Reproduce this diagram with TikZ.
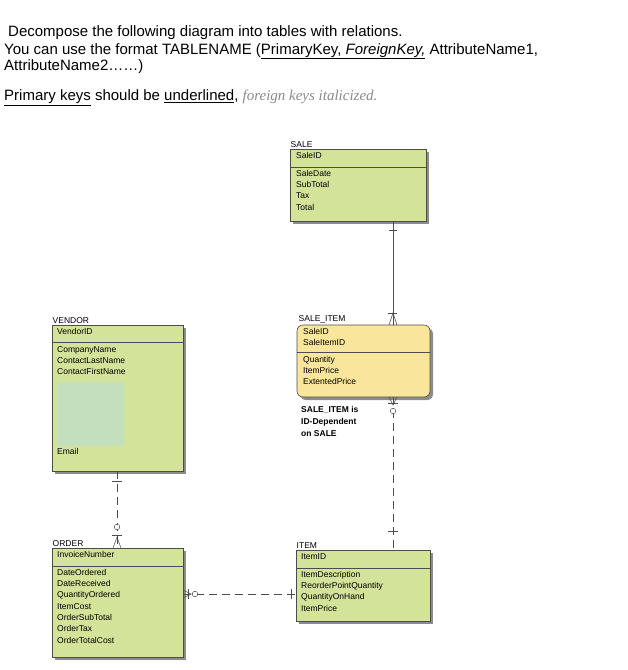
\documentclass[tikz,border=0pt]{standalone}
\usepackage{fontspec}
\setmainfont{Liberation Sans}
\definecolor{ent}{HTML}{D4E39A}
\definecolor{yel}{HTML}{FAE69A}
\definecolor{inner}{HTML}{C4DFBE}
\definecolor{grey}{HTML}{8A8A8A}
\begin{document}
\begin{tikzpicture}[x=1pt,y=-1pt,
  ebox/.style={draw=black!70,fill=ent,line width=0.6pt},
  ttl/.style={anchor=south west,inner sep=0.5pt,font=\fontsize{8.5}{9}\selectfont},
  attr/.style={anchor=north west,inner sep=0pt,align=left,font=\fontsize{8.5}{11.3}\selectfont},
  rel/.style={draw=black!70,line width=0.5pt},
  dsh/.style={rel,dash pattern=on 8pt off 5pt}]
\useasboundingbox (0,0) rectangle (628,670);
% header text
\node[anchor=west,inner sep=0pt,font=\fontsize{15}{17}\selectfont] (t1) at (8,33) {Decompose the following diagram into tables with relations.};
\node[anchor=north west,inner sep=0pt,align=left,font=\fontsize{15}{16.5}\selectfont] (t2) at (4,43) {You can use the format TABLENAME (\underline{PrimaryKey,}\underline{\textit{ ForeignKey,}} AttributeName1,\\AttributeName2\ldots\ldots)};
\node[anchor=west,inner sep=0pt,font=\fontsize{15}{17}\selectfont] (t3) at (4,98) {\underline{Primary keys} should be \underline{underlined}, {\color{grey}\fontspec{Liberation Serif}\itshape foreign keys italicized.}};
% shadows
\foreach \a/\b/\c/\d in {290/149/426/221, 52/325/183/471, 52/548/183/657, 296/550/430/621}
  \fill[black!45] (\a+3,\b+3) rectangle (\c+3,\d+3);
\fill[black!45,rounded corners=6pt] (300,328) rectangle (433,400);
% SALE
\draw[ebox] (290,149) rectangle (426,221);
\draw[black!70] (290,167) -- (426,167);
\node[ttl] (saleT) at (290,148) {SALE};
\node[attr] (saleK) at (296,152) {SaleID};
\node[attr] (saleA) at (296,170) {SaleDate\\SubTotal\\Tax\\Total};
% SALE_ITEM
\draw[draw=black!70,fill=yel,rounded corners=6pt,line width=0.6pt] (297,325) rectangle (430,397);
\draw[black!70] (297,352) -- (430,352);
\node[ttl] (siT) at (298,324) {SALE\_ITEM};
\node[attr] (siK) at (303,328) {SaleID\\SaleItemID};
\node[attr] (siA) at (303,356) {Quantity\\ItemPrice\\ExtentedPrice};
\node[attr,font=\bfseries\fontsize{8.5}{12}\selectfont] (note) at (301,406) {SALE\_ITEM is\\ID-Dependent\\on SALE};
% VENDOR
\draw[ebox] (52,325) rectangle (183,471);
\draw[black!70] (52,342) -- (183,342);
\node[ttl] (vT) at (52,324) {VENDOR};
\node[attr] (vK) at (57,328) {VendorID};
\node[attr] (vA) at (57,346) {CompanyName\\ContactLastName\\ContactFirstName};
\fill[inner] (57,382) rectangle (124,446);
\node[attr] (vE) at (57,448) {Email};
% ORDER
\draw[ebox] (52,548) rectangle (183,657);
\draw[black!70] (52,566) -- (183,566);
\node[ttl] (oT) at (52,547) {ORDER};
\node[attr] (oK) at (57,551) {InvoiceNumber};
\node[attr] (oA) at (57,569) {DateOrdered\\DateReceived\\QuantityOrdered\\ItemCost\\OrderSubTotal\\OrderTax\\OrderTotalCost};
% ITEM
\draw[ebox] (296,550) rectangle (430,621);
\draw[black!70] (296,568) -- (430,568);
\node[ttl] (iT) at (296,549) {ITEM};
\node[attr] (iK) at (301,553) {ItemID};
\node[attr] (iA) at (301,571) {ItemDescription\\ReorderPointQuantity\\QuantityOnHand\\ItemPrice};
% connectors
\coordinate (a1) at (393,221); \coordinate (a2) at (393,325);
\draw[rel] (a1) -- (a2);
\draw[rel] (389,230) -- (397,230);
\draw[rel] (388,313) -- (397,313);
\draw[rel] (389,325) -- (393,313) -- (397,325);
\coordinate (b1) at (393,397); \coordinate (b2) at (393,550);
\draw[dsh] (b1) -- (b2);
\draw[rel] (389,397) -- (393,405) -- (397,397);
\draw[rel] (388,403) -- (398,403);
\draw[rel,fill=white] (393,411) circle (2.8);
\draw[rel] (388,531) -- (398,531);
\coordinate (c1) at (117,471); \coordinate (c2) at (117,548);
\draw[dsh] (c1) -- (c2);
\draw[rel] (112,481) -- (122,481);
\draw[rel,fill=white] (117,527) circle (2.8);
\draw[rel] (112,535) -- (122,535);
\draw[rel] (113,548) -- (117,537) -- (121,548);
\coordinate (d1) at (183,594); \coordinate (d2) at (296,594);
\draw[dsh] (d1) -- (d2);
\draw[rel] (183,590) -- (191,594) -- (183,598);
\draw[rel] (188,589) -- (188,599);
\draw[rel,fill=white] (195,594) circle (2.8);
\draw[rel] (291,589) -- (291,599);
\end{tikzpicture}
\end{document}
